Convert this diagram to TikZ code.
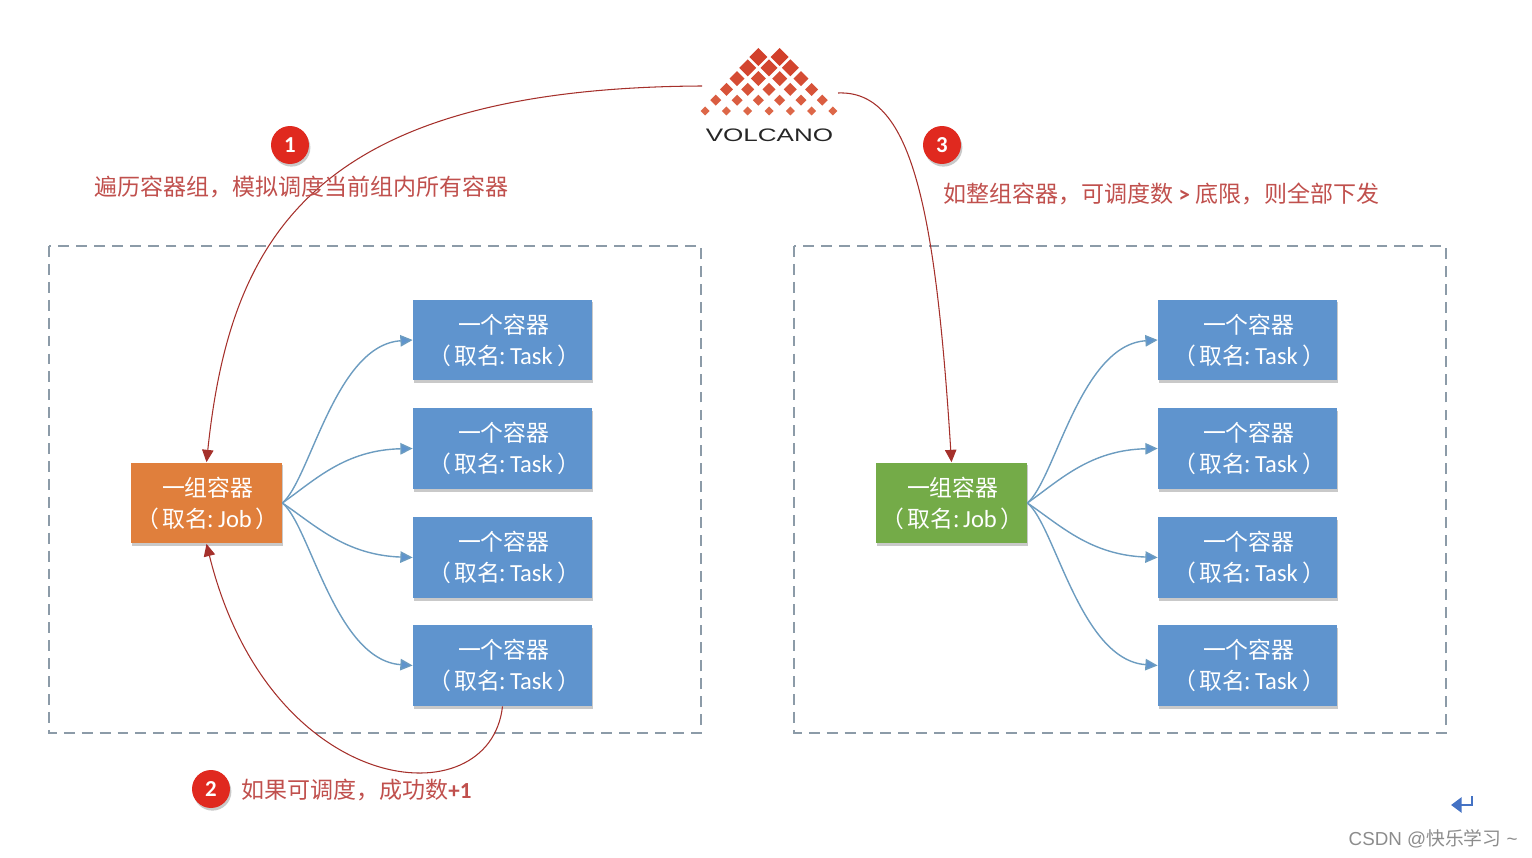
\documentclass[tikz,border=0pt]{standalone}
\usepackage{fontspec}
\setmainfont{Carlito}
\newfontfamily\cjk{Noto Sans CJK SC}
\newfontfamily\wmfont{Liberation Sans}
\usetikzlibrary{arrows.meta, shadows}
\definecolor{taskblue}{HTML}{5F94CE}
\definecolor{joborange}{HTML}{E07F3C}
\definecolor{jobgreen}{HTML}{74AB48}
\definecolor{linkblue}{HTML}{6C9CC0}
\definecolor{callred}{HTML}{A5302B}
\definecolor{notered}{HTML}{C0504D}
\definecolor{badgered}{HTML}{E0291F}
\definecolor{framegray}{HTML}{8C9BA8}
\definecolor{logored}{HTML}{D2402B}
\definecolor{logoorange}{HTML}{E0704F}
\definecolor{enterblue}{HTML}{4472C4}
\tikzset{%
  softshadow/.style={drop shadow={shadow xshift=0.8pt, shadow yshift=-1.5pt, opacity=.3, fill=black!70}},
  box/.style={
    rectangle,
    align=center,
    text=white,
    inner sep=0pt,
    minimum height=1.62cm,
    font=\fontsize{13}{17.6}\selectfont,
    softshadow
  },
  task/.style={box, fill=taskblue, minimum width=3.58cm},
  job/.style={box, minimum width=3.02cm},
  group/.style={draw=framegray, line width=0.85pt, dash pattern=on 6.2pt off 4pt},
  badge/.style={circle, fill=badgered, text=white, minimum size=0.76cm, inner sep=0pt, font=\fontsize{13}{13}\selectfont\bfseries, softshadow},
  note/.style={anchor=west, inner sep=0pt, text=notered, font=\fontsize{13.1}{16}\selectfont},
  move/.style={line width=0.8pt, draw=linkblue, -{Triangle[length=7pt,width=6.5pt,fill=taskblue]}},
  call/.style={line width=0.6pt, draw=callred, -{Triangle[length=7pt,width=6.5pt,fill=callred]}}
}
\newcommand{\tasktext}{\kern1.5pt{\cjk 一个容器}\\\kern2.5pt{\cjk （}\kern1.5pt{\cjk 取名:}\,{\fontsize{14}{17.6}\selectfont Task}\kern2.8pt{\cjk ）}}
\newcommand{\jobtext}{\kern1.5pt{\cjk 一组容器}\\\kern1pt{\cjk （}\kern1.5pt{\cjk 取名:}\,{\fontsize{14}{17.6}\selectfont Job}\kern1.8pt{\cjk ）}}

\begin{document}
\begin{tikzpicture}[x=0.02cm, y=-0.02cm]
  \useasboundingbox (0,0) rectangle (1532,858);

  % logo
  \foreach \row/\num/\rad/\pct in {0/2/9/100, 1/3/8.5/90, 2/4/7.5/75, 3/5/6.5/60, 4/6/5.5/40, 5/7/4.5/20}{
    \foreach \i in {1,...,\num}{
      \pgfmathsetmacro{\px}{769+(\i-(\num+1)/2)*21.3}
      \pgfmathsetmacro{\py}{57+\row*10.8}
      \fill[logored!\pct!logoorange] (\px-\rad,\py) -- (\px,\py-\rad) -- (\px+\rad,\py) -- (\px,\py+\rad) -- cycle;
    }
  }
  \node[inner sep=0pt, xscale=1.44, font=\wmfont\fontsize{10.3}{12}\selectfont, text=black!85] (logo) at (769.5,135) {VOLCANO};
  \coordinate (logoleft) at (702,86);
  \coordinate (logoright) at (838,93);

  % left group
  \draw[group] (49,246) rectangle (701,733);
  \node[job, fill=joborange] (job1) at (206.5,503) {\jobtext};
  \node[task] (t1) at (502.5,340) {\tasktext};
  \node[task] (t2) at (502.5,448.5) {\tasktext};
  \node[task] (t3) at (502.5,557.5) {\tasktext};
  \node[task] (t4) at (502.5,665.5) {\tasktext};

  \draw[move] (job1.east) .. controls (310,480) and (335,345) .. (t1.west);
  \draw[move] (job1.east) .. controls (315,480) and (345,450) .. (t2.west);
  \draw[move] (job1.east) .. controls (315,525) and (345,555) .. (t3.west);
  \draw[move] (job1.east) .. controls (310,525) and (335,660) .. (t4.west);

  % right group
  \draw[group] (794,246) rectangle (1446,733);
  \node[job, fill=jobgreen] (job2) at (951.5,503) {\jobtext};
  \node[task] (t5) at (1247.5,340) {\tasktext};
  \node[task] (t6) at (1247.5,448.5) {\tasktext};
  \node[task] (t7) at (1247.5,557.5) {\tasktext};
  \node[task] (t8) at (1247.5,665.5) {\tasktext};

  \draw[move] (job2.east) .. controls (1055,480) and (1080,345) .. (t5.west);
  \draw[move] (job2.east) .. controls (1060,480) and (1090,450) .. (t6.west);
  \draw[move] (job2.east) .. controls (1060,525) and (1090,555) .. (t7.west);
  \draw[move] (job2.east) .. controls (1055,525) and (1080,660) .. (t8.west);

  % steps
  \draw[call] (logoleft) .. controls (310,88) and (230,240) .. (job1.north);
  \draw[call] (t4.south) .. controls (490,820) and (270,800) .. (job1.south);
  \draw[call] (logoright) .. controls (910,90) and (935,200) .. (job2.north);

  \node[badge] (b1) at (290,145) {1};
  \node[badge] (b2) at (211,789) {2};
  \node[badge] (b3) at (942,145) {3};

  \node[note] (n1) at (94,187) {\cjk 遍历容器组，模拟调度当前组内所有容器};
  \node[note] (n2) at (241,790) {{\cjk 如果可调度，成功数}\textbf{+1}};
  \node[note] (n3) at (943,194) {{\cjk 如整组容器，可调度数} \textbf{>} {\cjk 底限，则全部下发}};

  % return mark and source line
  \coordinate (entertop) at (1472,796);
  \coordinate (enterend) at (1451,805);
  \draw[enterblue, line width=1.5pt, -{Triangle[length=6pt,width=8.5pt]}] (entertop) |- (enterend);
  \node[anchor=east, inner sep=0pt, text=black!45, font=\wmfont\fontsize{10.7}{13}\selectfont] (source) at (1518,839) {CSDN @{\cjk 快乐学习} \textasciitilde};
\end{tikzpicture}
\end{document}
